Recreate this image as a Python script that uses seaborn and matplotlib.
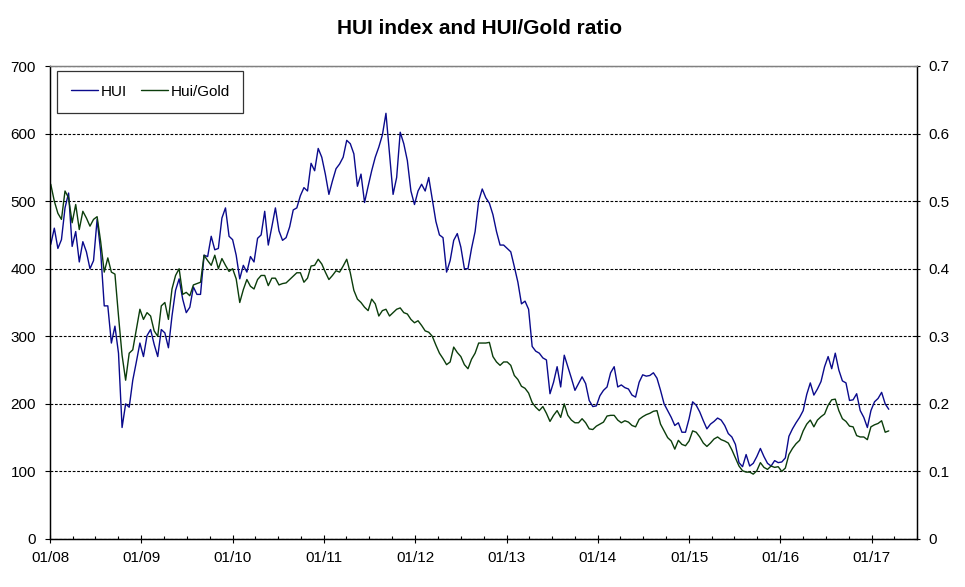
import seaborn as sns
import pandas as pd
import matplotlib.pyplot as plt
import matplotlib.dates as mdates
from matplotlib.ticker import MultipleLocator, FuncFormatter

# values, one reading about every two weeks
first_day = "2008-01-04"
last_day = "2017-03-10"

hui = [436, 460, 430, 443, 490, 512, 433, 455, 410, 440,
       425, 400, 412, 473, 425, 345, 345, 290, 315, 275,
       165, 200, 195, 235, 262, 290, 270, 301, 310, 288,
       270, 310, 305, 283, 330, 368, 385, 355, 335, 343,
       373, 362, 362, 420, 418, 448, 428, 430, 475, 490,
       448, 443, 420, 385, 405, 395, 418, 410, 445, 450,
       485, 435, 462, 490, 456, 442, 446, 462, 487, 490,
       508, 520, 515, 556, 545, 578, 565, 540, 510, 530,
       548, 555, 565, 590, 585, 570, 522, 540, 498, 522,
       545, 565, 580, 598, 630, 570, 510, 535, 602, 585,
       560, 515, 495, 515, 525, 515, 535, 502, 470, 450,
       446, 395, 412, 442, 452, 432, 400, 400, 430, 455,
       500, 518, 505, 497, 480, 455, 435, 435, 430, 425,
       403, 380, 348, 352, 340, 285, 278, 275, 268, 265,
       215, 232, 255, 225, 272, 255, 238, 220, 230, 240,
       230, 205, 196, 197, 212, 220, 225, 246, 255, 225,
       228, 224, 222, 213, 210, 232, 243, 241, 242, 246,
       238, 220, 200, 190, 180, 168, 172, 158, 158, 178,
       203, 198, 188, 175, 163, 170, 174, 179, 176, 168,
       156, 151, 140, 113, 107, 125, 108, 112, 122, 134,
       122, 112, 108, 116, 113, 114, 120, 152, 163, 172,
       180, 190, 214, 231, 213, 222, 233, 255, 270, 252,
       275, 250, 234, 231, 205, 206, 215, 190, 180, 165,
       190, 203, 208, 217, 200, 192]

hui_gold = [0.525, 0.500, 0.482, 0.473, 0.515, 0.505, 0.468, 0.495, 0.458, 0.485,
            0.475, 0.463, 0.473, 0.477, 0.440, 0.395, 0.416, 0.395, 0.392, 0.330,
            0.272, 0.235, 0.275, 0.280, 0.310, 0.340, 0.325, 0.335, 0.330, 0.308,
            0.300, 0.345, 0.350, 0.325, 0.370, 0.390, 0.400, 0.362, 0.365, 0.360,
            0.376, 0.378, 0.380, 0.420, 0.412, 0.405, 0.420, 0.400, 0.415, 0.405,
            0.396, 0.400, 0.385, 0.350, 0.369, 0.384, 0.374, 0.370, 0.384, 0.390,
            0.390, 0.375, 0.386, 0.386, 0.376, 0.378, 0.379, 0.384, 0.389, 0.394,
            0.394, 0.380, 0.386, 0.404, 0.405, 0.414, 0.407, 0.395, 0.384, 0.390,
            0.397, 0.395, 0.404, 0.414, 0.394, 0.368, 0.355, 0.350, 0.343, 0.338,
            0.355, 0.348, 0.330, 0.338, 0.340, 0.330, 0.335, 0.340, 0.342, 0.335,
            0.333, 0.325, 0.320, 0.323, 0.316, 0.308, 0.306, 0.300, 0.287, 0.275,
            0.267, 0.258, 0.262, 0.284, 0.276, 0.270, 0.258, 0.252, 0.266, 0.275,
            0.290, 0.290, 0.290, 0.291, 0.270, 0.262, 0.257, 0.262, 0.262, 0.257,
            0.242, 0.236, 0.226, 0.223, 0.216, 0.202, 0.195, 0.190, 0.196, 0.186,
            0.174, 0.183, 0.190, 0.180, 0.200, 0.183, 0.176, 0.172, 0.172, 0.178,
            0.172, 0.163, 0.162, 0.167, 0.170, 0.173, 0.182, 0.183, 0.183, 0.176,
            0.172, 0.175, 0.173, 0.168, 0.166, 0.177, 0.181, 0.184, 0.186, 0.189,
            0.190, 0.170, 0.160, 0.150, 0.145, 0.133, 0.146, 0.140, 0.138, 0.145,
            0.160, 0.158, 0.151, 0.142, 0.137, 0.142, 0.148, 0.151, 0.147, 0.145,
            0.142, 0.132, 0.120, 0.108, 0.101, 0.099, 0.099, 0.096, 0.101, 0.113,
            0.106, 0.103, 0.108, 0.106, 0.107, 0.100, 0.105, 0.125, 0.134, 0.141,
            0.146, 0.160, 0.170, 0.176, 0.166, 0.176, 0.181, 0.185, 0.198, 0.206,
            0.207, 0.190, 0.178, 0.174, 0.167, 0.166, 0.153, 0.151, 0.151, 0.147,
            0.166, 0.169, 0.171, 0.175, 0.158, 0.160]

df = pd.DataFrame({
    "date": pd.date_range(first_day, last_day, periods=len(hui)),
    "HUI": hui,
    "Hui/Gold": hui_gold,
})

sns.set_style("white")
plt.rcParams["font.family"] = ["Liberation Sans", "DejaVu Sans"]
plt.rcParams.update({"text.color": "black", "axes.labelcolor": "black",
                     "xtick.color": "black", "ytick.color": "black"})

fig = plt.figure(figsize=(9.65, 5.87), dpi=100)
ax = fig.add_axes([50 / 965, 1 - 539 / 587, 867 / 965, 473 / 587])
ax2 = ax.twinx()

sns.lineplot(data=df, x="date", y="HUI", ax=ax, color="#0a0a8c", lw=1.0, legend=False)
sns.lineplot(data=df, x="date", y="Hui/Gold", ax=ax2, color="#0b3d0b", lw=1.0, legend=False)

ax.set_xlim(pd.Timestamp("2008-01-01"), pd.Timestamp("2017-07-01"))
ax.set_ylim(0, 700)
ax2.set_ylim(0, 0.7)
ax.yaxis.set_major_locator(MultipleLocator(100))
ax2.yaxis.set_major_locator(MultipleLocator(0.1))
ax2.yaxis.set_major_formatter(FuncFormatter(lambda v, p: f"{v:g}"))
ax.xaxis.set_major_locator(mdates.YearLocator())
ax.xaxis.set_major_formatter(mdates.DateFormatter("%m/%y"))
ax.xaxis.set_minor_locator(mdates.MonthLocator(bymonth=[4, 7, 10]))
ax.set_xlabel("")
ax.set_ylabel("")
ax2.set_ylabel("")

# dashed horizontal grid, not on the frame lines
ax.yaxis.grid(True, color="black", linestyle=(0, (2.5, 1.5)), lw=0.8)
grid = ax.get_ygridlines()
grid[0].set_visible(False)
grid[-1].set_visible(False)

ax.tick_params(axis="y", direction="out", length=3.6, width=0.8, pad=6.5,
               labelsize=11, left=True, colors="black")
ax.tick_params(axis="x", which="major", direction="inout", length=6, width=0.8,
               pad=5.5, labelsize=11, bottom=True, colors="black")
ax.tick_params(axis="x", which="minor", direction="in", length=2.2, width=0.8,
               bottom=True, colors="black")
ax2.tick_params(axis="y", direction="inout", length=5, width=0.8, pad=5.5,
                labelsize=11, right=True, colors="black")

for a in (ax, ax2):
    for side in ("left", "bottom", "right"):
        a.spines[side].set_color("black")
        a.spines[side].set_linewidth(0.9)
    a.spines["top"].set_color("#808080")
    a.spines["top"].set_linewidth(0.9)

handles = [ax.get_lines()[0], ax2.get_lines()[0]]
leg = ax2.legend(handles, ["HUI", "Hui/Gold"], loc="upper left",
                 bbox_to_anchor=(7 / 867, 1 - 5 / 473), borderaxespad=0,
                 ncol=2, fontsize=11, frameon=True, fancybox=False,
                 edgecolor="black", handlelength=1.8, handletextpad=0.15,
                 columnspacing=0.9, borderpad=0.9)
leg.get_frame().set_linewidth(0.9)

fig.suptitle("HUI index and HUI/Gold ratio", x=480 / 965, y=1 - 28 / 587,
             va="center", fontsize=15, fontweight="bold", color="black")

fig.savefig("out.png", dpi=100)
